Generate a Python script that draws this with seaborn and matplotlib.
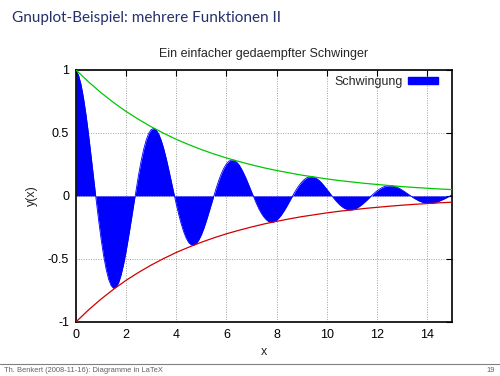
import matplotlib

matplotlib.use("Agg")

import matplotlib.pyplot as plt
import numpy as np
import pandas as pd
import seaborn as sns
from matplotlib.lines import Line2D
from matplotlib.patches import Patch

# damped oscillation at steps of 0.1 in x
X_STEP = 0.1
SCHWINGUNG = [
    1.000, 0.960, 0.885, 0.777, 0.643, 0.489, 0.321, 0.148, -0.025, -0.190,
    -0.341, -0.473, -0.580, -0.661, -0.712, -0.734, -0.724, -0.689, -0.626, -0.541,
    -0.438, -0.322, -0.198, -0.071, 0.054, 0.172, 0.279, 0.370, 0.443, 0.496,
    0.527, 0.536, 0.523, 0.491, 0.441, 0.375, 0.297, 0.209, 0.117, 0.025,
    -0.066, -0.149, -0.224, -0.287, -0.337, -0.371, -0.389, -0.391, -0.377, -0.349,
    -0.309, -0.258, -0.198, -0.133, -0.066, 0.001, 0.066, 0.126, 0.178, 0.221,
    0.254, 0.276, 0.285, 0.284, 0.270, 0.248, 0.215, 0.176, 0.132, 0.083,
    0.034, -0.015, -0.062, -0.104, -0.140, -0.169, -0.191, -0.205, -0.209, -0.205,
    -0.194, -0.174, -0.149, -0.119, -0.086, -0.050, -0.014, 0.021, 0.054, 0.084,
    0.109, 0.129, 0.143, 0.151, 0.153, 0.148, 0.138, 0.123, 0.103, 0.080,
    0.055, 0.029, 0.003, -0.023, -0.046, -0.067, -0.084, -0.098, -0.106, -0.111,
    -0.111, -0.107, -0.097, -0.085, -0.070, -0.053, -0.035, -0.015, 0.004, 0.022,
    0.039, 0.053, 0.065, 0.074, 0.079, 0.081, 0.081, 0.076, 0.069, 0.060,
    0.048, 0.035, 0.021, 0.007, -0.007, -0.020, -0.031, -0.042, -0.049, -0.055,
    -0.059, -0.060, -0.058, -0.054, -0.048, -0.041, -0.032, -0.023, -0.013, -0.002,
    0.008,
]

# envelopes, read at steps of 0.5 in x
ENV_X = [0.0, 0.5, 1.0, 1.5, 2.0, 2.5, 3.0, 3.5, 4.0, 4.5, 5.0, 5.5, 6.0, 6.5, 7.0, 7.5,
         8.0, 8.5, 9.0, 9.5, 10.0, 10.5, 11.0, 11.5, 12.0, 12.5, 13.0, 13.5, 14.0, 14.5, 15.0]
ENV_UPPER = [1.000, 0.905, 0.819, 0.741, 0.670, 0.607, 0.549, 0.497, 0.449, 0.407, 0.368,
             0.333, 0.301, 0.273, 0.247, 0.223, 0.202, 0.183, 0.165, 0.150, 0.135, 0.122,
             0.111, 0.100, 0.091, 0.082, 0.074, 0.067, 0.061, 0.055, 0.050]
ENV_LOWER = [-1.000, -0.905, -0.819, -0.741, -0.670, -0.607, -0.549, -0.497, -0.449, -0.407,
             -0.368, -0.333, -0.301, -0.273, -0.247, -0.223, -0.202, -0.183, -0.165, -0.150,
             -0.135, -0.122, -0.111, -0.100, -0.091, -0.082, -0.074, -0.067, -0.061, -0.055,
             -0.050]

X_TICKS = [0, 2, 4, 6, 8, 10, 12, 14]
Y_TICKS = [-1, -0.5, 0, 0.5, 1]
Y_TICK_LABELS = ["-1", "-0.5", "0", "0.5", "1"]

SLIDE_TITLE = "Gnuplot-Beispiel: mehrere Funktionen II"
PLOT_TITLE = "Ein einfacher gedaempfter Schwinger"
FOOTER = "Th. Benkert (2008-11-16): Diagramme in LaTeX"
PAGE = "19"

BLUE = "#0000ff"
GREEN = "#00c800"
RED = "#d00000"
TITLE_BLUE = "#25306a"


def main() -> None:
    sns.set_theme(style="white")
    plt.rcParams["font.family"] = ["Liberation Sans", "DejaVu Sans"]

    x = np.arange(len(SCHWINGUNG)) * X_STEP
    osc = pd.DataFrame({"x": x, "y": SCHWINGUNG})
    env = pd.DataFrame({"x": ENV_X, "upper": ENV_UPPER, "lower": ENV_LOWER})

    fig = plt.figure(figsize=(5.0, 3.76), dpi=100)
    ax = fig.add_axes([0.152, 0.144, 0.752, 0.670])

    ax.fill_between(osc["x"], osc["y"], 0, color=BLUE, linewidth=0, zorder=2)
    sns.lineplot(data=osc, x="x", y="y", color=BLUE, linewidth=0.6, ax=ax, zorder=2)
    sns.lineplot(data=env, x="x", y="upper", color=GREEN, linewidth=0.9, ax=ax, zorder=3)
    sns.lineplot(data=env, x="x", y="lower", color=RED, linewidth=0.9, ax=ax, zorder=3)

    ax.set_xlim(0, 15)
    ax.set_ylim(-1, 1)
    ax.set_xticks(X_TICKS)
    ax.set_yticks(Y_TICKS)
    ax.set_yticklabels(Y_TICK_LABELS)
    ax.grid(True, color="#a0a0a0", linestyle=(0, (1, 1.5)), linewidth=0.7, zorder=1)
    ax.set_axisbelow(True)
    ax.tick_params(direction="in", length=4, width=0.8, top=True, right=True,
                   labelsize=9, colors="black", pad=5)
    for spine in ax.spines.values():
        spine.set_color("black")
        spine.set_linewidth(1.2)

    ax.set_xlabel("x", fontsize=9, labelpad=4)
    ax.set_ylabel("y(x)", fontsize=9, labelpad=7)
    ax.set_title(PLOT_TITLE, fontsize=9, pad=9)

    handle = Patch(facecolor=BLUE, edgecolor=BLUE)
    leg = ax.legend([handle], ["Schwingung"], loc="upper right", frameon=False,
                    fontsize=9, markerfirst=False, handlelength=2.4, handleheight=0.5,
                    borderaxespad=0.0, handletextpad=0.4,
                    bbox_to_anchor=(0.975, 0.995))
    leg.set_zorder(5)

    fig.text(0.024, 0.952, SLIDE_TITLE, fontsize=11, color=TITLE_BLUE,
             family=["Lato", "DejaVu Sans"], va="center", ha="left")

    fig.add_artist(Line2D([0, 1], [0.031, 0.031], color="#808080", linewidth=0.8))
    fig.text(0.008, 0.014, FOOTER, fontsize=5.4, color="#606060", va="center", ha="left")
    fig.text(0.99, 0.014, PAGE, fontsize=5.4, color="#606060", va="center", ha="right")

    fig.savefig("out.png", dpi=100)
    plt.close(fig)


if __name__ == "__main__":
    main()
